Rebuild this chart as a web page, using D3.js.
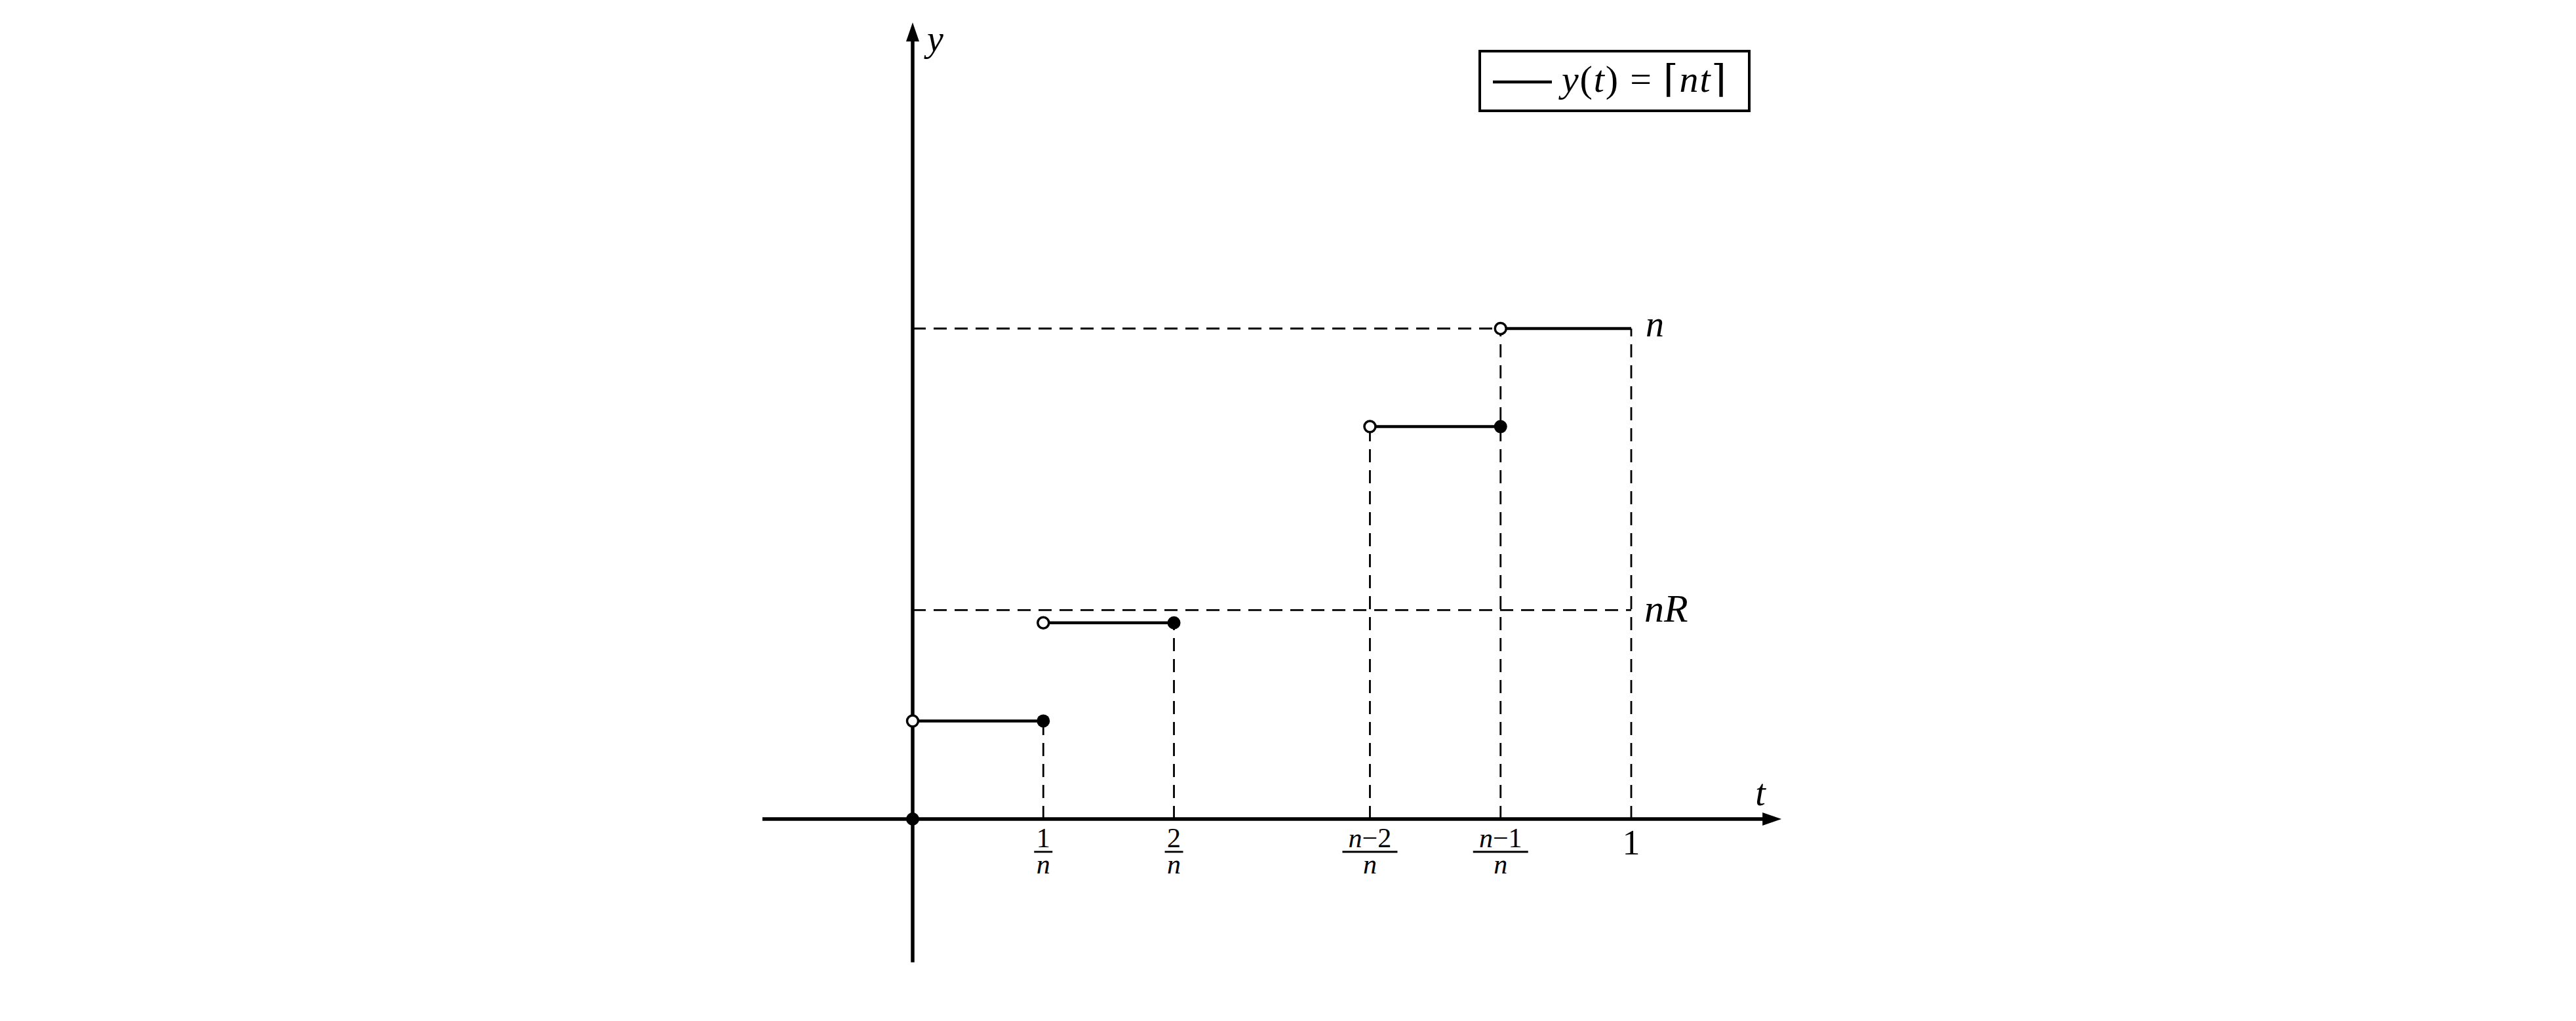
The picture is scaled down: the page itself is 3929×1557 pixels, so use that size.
<!DOCTYPE html>
<html>
<head>
<meta charset="utf-8">
<script src="https://cdn.jsdelivr.net/npm/d3@7"></script>
<style>
  body { margin: 0; background: #fff; }
  text { font-family: 'Liberation Serif', 'DejaVu Serif', serif; fill: #000; }
</style>
</head>
<body>
<div id="chart"></div>
<script>
// step function y(t) = ceil(nt), drawn schematically (t in units of 1/n, gap between 2/n and (n-2)/n)

const stepStart = [0, 1, 3.5, 4.5]
const stepEnd = [1, 2, 4.5, 5.5]
const stepLevel = [1, 2, 4, 5]
const closedEnd = [true, true, true, false]

const tickPos = [1, 2, 3.5, 4.5]
const tickNum = ['1', '2', 'n\u22122', 'n\u22121']
const tickDen = ['n', 'n', 'n', 'n']
const endTick = 5.5
const levelN = 5
const levelNR = 2.13

const width = 3929
const height = 1557

const x = d3.scaleLinear().domain([0, 5.5]).range([1392, 2488])
const y = d3.scaleLinear().domain([0, 5]).range([1249, 501])

const svg = d3.select('#chart')
  .append('svg')
  .attr('width', width)
  .attr('height', height)
  .style('background', '#fff')

const dash = '20,12'

// dashed guides: horizontals
svg.append('line')
  .attr('x1', x(0)).attr('x2', x(stepStart[3]))
  .attr('y1', y(levelN)).attr('y2', y(levelN))
  .attr('stroke', '#000').attr('stroke-width', 2.8).attr('stroke-dasharray', dash)
svg.append('line')
  .attr('x1', x(0)).attr('x2', x(endTick))
  .attr('y1', y(levelNR)).attr('y2', y(levelNR))
  .attr('stroke', '#000').attr('stroke-width', 2.8).attr('stroke-dasharray', dash)

// dashed guides: verticals from the axis up to the step
const verts = [
  { t: 1, top: 1 },
  { t: 2, top: 2 },
  { t: 3.5, top: 4 },
  { t: 4.5, top: 5 },
  { t: 5.5, top: 5 }
]
svg.selectAll('.vguide')
  .data(verts)
  .enter().append('line')
  .attr('class', 'vguide')
  .attr('x1', d => x(d.t)).attr('x2', d => x(d.t))
  .attr('y1', y(0)).attr('y2', d => y(d.top))
  .attr('stroke', '#000').attr('stroke-width', 2.8).attr('stroke-dasharray', dash)

// axes
const xLeft = -1.15
const xTip = 6.65
const yBottom = -1.46
const yTip = 8.12

svg.append('line')
  .attr('x1', x(xLeft)).attr('x2', x(xTip) - 26)
  .attr('y1', y(0)).attr('y2', y(0))
  .attr('stroke', '#000').attr('stroke-width', 5.5)
svg.append('path')
  .attr('d', `M${x(xTip)},${y(0)} L${x(xTip) - 29},${y(0) - 10} L${x(xTip) - 29},${y(0) + 10} Z`)
  .attr('fill', '#000')

svg.append('line')
  .attr('x1', x(0)).attr('x2', x(0))
  .attr('y1', y(yBottom)).attr('y2', y(yTip) + 26)
  .attr('stroke', '#000').attr('stroke-width', 5.5)
svg.append('path')
  .attr('d', `M${x(0)},${y(yTip)} L${x(0) - 10},${y(yTip) + 29} L${x(0) + 10},${y(yTip) + 29} Z`)
  .attr('fill', '#000')

// steps
const steps = stepStart.map((s, i) => ({ s: s, e: stepEnd[i], v: stepLevel[i], closed: closedEnd[i] }))

svg.selectAll('.step')
  .data(steps)
  .enter().append('line')
  .attr('class', 'step')
  .attr('x1', d => x(d.s)).attr('x2', d => x(d.e))
  .attr('y1', d => y(d.v)).attr('y2', d => y(d.v))
  .attr('stroke', '#000').attr('stroke-width', 4.5)

svg.selectAll('.closed')
  .data(steps.filter(d => d.closed))
  .enter().append('circle')
  .attr('class', 'closed')
  .attr('cx', d => x(d.e)).attr('cy', d => y(d.v))
  .attr('r', 10)
  .attr('fill', '#000')

svg.selectAll('.open')
  .data(steps)
  .enter().append('circle')
  .attr('class', 'open')
  .attr('cx', d => x(d.s)).attr('cy', d => y(d.v))
  .attr('r', 8.5)
  .attr('fill', '#fff')
  .attr('stroke', '#000')
  .attr('stroke-width', 3.5)

// origin
svg.append('circle')
  .attr('cx', x(0)).attr('cy', y(0))
  .attr('r', 10)
  .attr('fill', '#000')

// tick labels as fractions
const fracs = svg.selectAll('.frac')
  .data(tickPos.map((t, i) => ({ t: t, num: tickNum[i], den: tickDen[i] })))
  .enter().append('g')
  .attr('class', 'frac')
  .attr('transform', d => `translate(${x(d.t)},0)`)

fracs.append('text')
  .attr('class', 'num')
  .attr('y', 1292)
  .attr('text-anchor', 'middle')
  .style('font-size', '42px')
  .each(function (d) {
    const sel = d3.select(this)
    if (d.num.startsWith('n')) {
      sel.append('tspan').style('font-style', 'italic').text('n')
      sel.append('tspan').text(d.num.slice(1))
    } else {
      sel.text(d.num)
    }
  })

fracs.append('text')
  .attr('y', 1332)
  .attr('text-anchor', 'middle')
  .style('font-size', '42px')
  .style('font-style', 'italic')
  .text(d => d.den)

fracs.append('line')
  .attr('y1', 1299).attr('y2', 1299)
  .each(function (d) {
    const w = d.num.startsWith('n') ? 84 : 28
    d3.select(this).attr('x1', -w / 2).attr('x2', w / 2)
  })
  .attr('stroke', '#000').attr('stroke-width', 2.8)

svg.append('text')
  .attr('x', x(endTick)).attr('y', 1303)
  .attr('text-anchor', 'middle')
  .style('font-size', '54px')
  .text('1')

// axis names and level labels
svg.append('text')
  .attr('x', x(0) + 22).attr('y', 78)
  .style('font-size', '56px').style('font-style', 'italic')
  .text('y')
svg.append('text')
  .attr('x', x(xTip) - 40).attr('y', 1228)
  .style('font-size', '56px').style('font-style', 'italic')
  .text('t')
svg.append('text')
  .attr('x', x(endTick) + 22).attr('y', y(levelN) + 12)
  .style('font-size', '56px').style('font-style', 'italic')
  .text('n')
svg.append('text')
  .attr('x', x(endTick) + 20).attr('y', y(levelNR) + 18)
  .style('font-size', '60px').style('font-style', 'italic')
  .text('nR')

// legend
const legend = svg.append('g').attr('transform', 'translate(2257,78)')
legend.append('rect')
  .attr('width', 411).attr('height', 91)
  .attr('fill', '#fff').attr('stroke', '#000').attr('stroke-width', 4)
legend.append('line')
  .attr('x1', 20).attr('x2', 110)
  .attr('y1', 47).attr('y2', 47)
  .attr('stroke', '#000').attr('stroke-width', 4.5)
const lt = legend.append('text')
  .attr('x', 125).attr('y', 62)
  .attr('textLength', 251).attr('lengthAdjust', 'spacing')
  .style('font-size', '58px')
lt.append('tspan').style('font-style', 'italic').text('y')
lt.append('tspan').text('(')
lt.append('tspan').style('font-style', 'italic').text('t')
lt.append('tspan').text(') = \u2308')
lt.append('tspan').style('font-style', 'italic').text('nt')
lt.append('tspan').text('\u2309')
</script>
</body>
</html>
